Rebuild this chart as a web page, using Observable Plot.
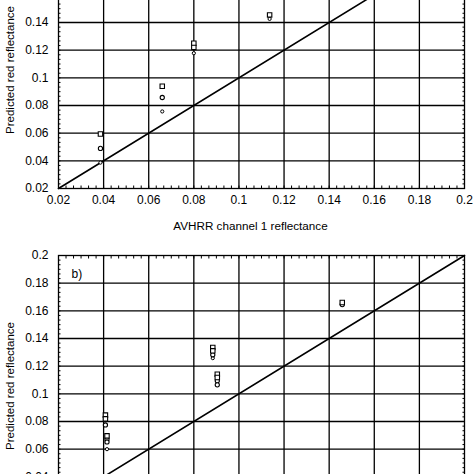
<!DOCTYPE html>
<html><head><meta charset="utf-8">
<script src="https://cdn.jsdelivr.net/npm/d3@7"></script>
<script src="https://cdn.jsdelivr.net/npm/@observablehq/plot@0.6"></script>
<style>
html,body{margin:0;padding:0;background:#fff;}
#wrap{position:relative;width:474px;height:474px;overflow:hidden;background:#fff;}
#top,#bottom{position:absolute;left:0;}
#top{top:-71px;}
#bottom{top:245px;}
</style></head><body><div id="wrap"><div id="top"></div><div id="bottom"></div></div>
<script>
// Axis ticks
const majorTicks = [0.02, 0.04, 0.06, 0.08, 0.1, 0.12, 0.14, 0.16, 0.18, 0.2];
const tickLabels = ["0.02", "0.04", "0.06", "0.08", "0.1", "0.12", "0.14", "0.16", "0.18", "0.2"];
const gridTicks = [0.04, 0.06, 0.08, 0.1, 0.12, 0.14, 0.16, 0.18];
const xTitle = "AVHRR channel 1 reflectance";
const yTitle = "Predicted red reflectance";

// 1:1 line
const lineX = [0.02, 0.2];
const lineY = [0.02, 0.2];

// Panel a)
const aSquareX = [0.0386, 0.066, 0.080, 0.080, 0.1136];
const aSquareY = [0.0594, 0.0939, 0.125, 0.122, 0.1455];
const aCircleX = [0.0386, 0.066];
const aCircleY = [0.049, 0.0858];
const aSmallX = [0.0386, 0.066, 0.080, 0.1136];
const aSmallY = [0.0387, 0.0757, 0.1178, 0.1426];

// Panel b)
const bSquareX = [0.0408, 0.0408, 0.0415, 0.0884, 0.0884, 0.0904, 0.0904, 0.1458];
const bSquareY = [0.0846, 0.0819, 0.0696, 0.1335, 0.1311, 0.1142, 0.1118, 0.166];
const bCircleX = [0.0408, 0.0415, 0.0415, 0.0884, 0.0904, 0.0904, 0.1458];
const bCircleY = [0.0775, 0.0672, 0.0652, 0.1282, 0.1094, 0.1065, 0.1645];
const bSmallX = [0.0415, 0.0884];
const bSmallY = [0.060, 0.1258];

const minorTicks = d3.range(0, 55).map(i => 0.02 + i * 0.02 / 6).filter(v => v <= 0.2001);
const fmt = d => { const k = majorTicks.findIndex(t => Math.abs(t - d) < 1e-9); return k >= 0 ? tickLabels[k] : ""; };
const pts = (xs, ys) => xs.map((x, i) => ({x, y: ys[i]}));
const FONT = "'Liberation Sans', Arial, sans-serif";

function panel(tag, sq, ci, sm) {
  return Plot.plot({
    width: 474, height: 314,
    marginLeft: 58, marginRight: 10, marginTop: 10, marginBottom: 55,
    style: {fontFamily: FONT, fontSize: "12px", color: "black", background: "white"},
    x: {domain: [0.02, 0.2]},
    y: {domain: [0.02, 0.2]},
    marks: [
      Plot.gridX({ticks: gridTicks, stroke: "black", strokeOpacity: 1, strokeWidth: 1.3}),
      Plot.gridY({ticks: gridTicks, stroke: "black", strokeOpacity: 1, strokeWidth: 1.3}),
      Plot.axisX({ticks: minorTicks, anchor: "bottom", tickSize: -2.5, tickFormat: () => "", label: null}),
      Plot.axisX({ticks: minorTicks, anchor: "top", tickSize: -2.5, tickFormat: () => "", label: null}),
      Plot.axisY({ticks: minorTicks, anchor: "left", tickSize: -2.5, tickFormat: () => "", label: null}),
      Plot.axisY({ticks: minorTicks, anchor: "right", tickSize: -2.5, tickFormat: () => "", label: null}),
      Plot.axisX({ticks: majorTicks, anchor: "bottom", tickSize: 0, tickPadding: 7, tickFormat: fmt, label: null, fontSize: 12}),
      Plot.axisY({ticks: majorTicks, anchor: "left", tickSize: 0, tickPadding: 10, tickFormat: fmt, label: null, fontSize: 12}),
      Plot.frame({stroke: "black", strokeWidth: 1.3}),
      Plot.line(pts(lineX, lineY), {x: "x", y: "y", stroke: "black", strokeWidth: 1.6}),
      Plot.dot(pts(sm[0], sm[1]), {x: "x", y: "y", symbol: "circle", r: 1.6, stroke: "black", fill: "white", strokeWidth: 1}),
      Plot.dot(pts(ci[0], ci[1]), {x: "x", y: "y", symbol: "circle", r: 2.1, stroke: "black", fill: "white", strokeWidth: 1.1}),
      Plot.dot(pts(sq[0], sq[1]), {x: "x", y: "y", symbol: "square", r: 2.5, stroke: "black", fill: "white", strokeWidth: 1.1}),
      Plot.text([tag], {frameAnchor: "top-left", dx: 13, dy: 18.5, textAnchor: "start", lineAnchor: "middle", fontSize: 12, fill: "black"}),
      Plot.text([xTitle], {frameAnchor: "bottom", dx: -11, dy: 37.5, textAnchor: "middle", lineAnchor: "middle", fontSize: 11.7, fill: "black"}),
      Plot.text([yTitle], {frameAnchor: "left", rotate: -90, dx: -48, dy: 6, textAnchor: "middle", lineAnchor: "middle", fontSize: 11.5, fill: "black"})
    ]
  });
}

document.getElementById("top").appendChild(panel("a)", [aSquareX, aSquareY], [aCircleX, aCircleY], [aSmallX, aSmallY]));
document.getElementById("bottom").appendChild(panel("b)", [bSquareX, bSquareY], [bCircleX, bCircleY], [bSmallX, bSmallY]));
</script></body></html>
